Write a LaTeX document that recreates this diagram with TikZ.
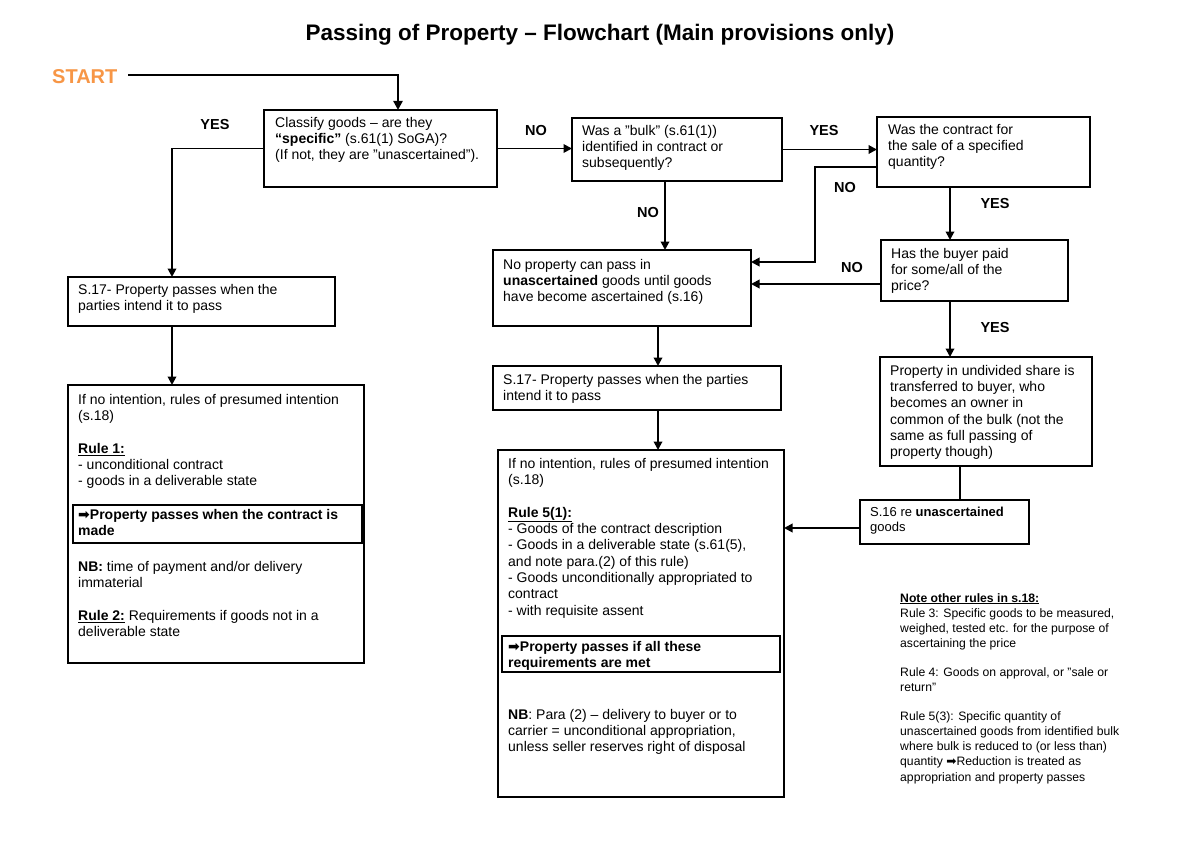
\documentclass[tikz,border=0pt]{standalone}
\usepackage{fontspec}
\setmainfont{Liberation Sans}
\newfontfamily\symfont{DejaVu Sans}
\usetikzlibrary{arrows.meta,calc}
\definecolor{startorange}{RGB}{247,150,70}
\newcommand{\myarrow}{{\symfont ➡}}
\newcommand{\sq}{\symbol{"22}}
\begin{document}
\begin{tikzpicture}[x=1pt,y=-1pt,
  box/.style={draw, line width=1.5pt, inner sep=0pt, outer sep=0pt, anchor=north west},
  txt/.style={anchor=north west, yshift=11pt, inner sep=0pt, align=left, font=\fontsize{14}{16.3}\selectfont, execute at begin node={\rule{0pt}{11pt}}},
  small/.style={anchor=north west, yshift=10.5pt, inner sep=0pt, align=left, font=\fontsize{13}{15}\selectfont, execute at begin node={\rule{0pt}{10.5pt}}},
  note/.style={anchor=north west, yshift=10pt, inner sep=0pt, align=left, font=\fontsize{12.2}{15.2}\selectfont, execute at begin node={\rule{0pt}{10pt}}},
  lab/.style={font=\bfseries\fontsize{14.5}{17}\selectfont, inner sep=0pt},
  con/.style={line width=1.9pt},
  arr/.style={line width=1.9pt, -{Triangle[length=8.5pt,width=8.5pt]}}]
\useasboundingbox (0,0) rectangle (1200,848);
\fill[white] (0,0) rectangle (1200,848);

% title and start
\node[font=\bfseries\fontsize{22.5}{26}\selectfont, inner sep=0pt] (title) at (600,35) {Passing of Property – Flowchart (Main provisions only)};
\node[font=\bfseries\fontsize{20}{24}\selectfont, text=startorange, anchor=base west, inner sep=0pt] (start) at (52,84) {START};

% boxes
\node[box, minimum width=233pt, minimum height=77pt] (A) at (264,110) {};
\node[box, minimum width=267pt, minimum height=49pt] (B) at (68,277) {};
\node[box, minimum width=296pt, minimum height=278pt] (C) at (68,385) {};
\node[box, minimum width=289pt, minimum height=38pt] (Cin) at (73,505) {};
\node[box, minimum width=210pt, minimum height=63pt] (D) at (572,118) {};
\node[box, minimum width=213pt, minimum height=70pt] (F) at (877,117) {};
\node[box, minimum width=258pt, minimum height=76pt] (G) at (493,250) {};
\node[box, minimum width=187pt, minimum height=61pt] (H) at (881,240) {};
\node[box, minimum width=212pt, minimum height=109pt] (I) at (880,357) {};
\node[box, minimum width=169pt, minimum height=44pt] (J) at (860,500) {};
\node[box, minimum width=288pt, minimum height=44pt] (K) at (493,366) {};
\node[box, minimum width=286pt, minimum height=347pt] (L) at (498,450) {};
\node[box, minimum width=278pt, minimum height=36pt] (Lin) at (502,636) {};

% texts
\node[txt] (At) at (275,128) {Classify goods – are they\\\textbf{“specific”} (s.61(1) SoGA)?\\(If not, they are \sq unascertained\sq).};
\node[txt] (Bt) at (78,295) {S.17- Property passes when the\\parties intend it to pass};
\node[txt] (Ct) at (78,405) {If no intention, rules of presumed intention\\(s.18)\\[16.3pt]\underline{\textbf{Rule 1:}}\\- unconditional contract\\- goods in a deliverable state};
\node[txt, font=\bfseries\fontsize{14}{16.3}\selectfont] (Cint) at (78,520) {\myarrow Property passes when the contract is\\made};
\node[txt] (Cb) at (78,572) {\textbf{NB:} time of payment and/or delivery\\immaterial\\[16.3pt]\underline{\textbf{Rule 2:}} Requirements if goods not in a\\deliverable state};
\node[txt] (Dt) at (582,136) {Was a \sq bulk\sq{} (s.61(1))\\identified in contract or\\subsequently?};
\node[txt] (Ft) at (888,135) {Was the contract for\\the sale of a specified\\quantity?};
\node[txt] (Gt) at (503,270) {No property can pass in\\\textbf{unascertained} goods until goods\\have become ascertained (s.16)};
\node[txt] (Ht) at (891,259) {Has the buyer paid\\for some/all of the\\price?};
\node[txt] (It) at (890,376) {Property in undivided share is\\transferred to buyer, who\\becomes an owner in\\common of the bulk (not the\\same as full passing of\\property though)};
\node[small] (Jt) at (870,517) {S.16 re \textbf{unascertained}\\goods};
\node[txt] (Kt) at (503,385) {S.17- Property passes when the parties\\intend it to pass};
\node[txt] (Lt) at (508,469) {If no intention, rules of presumed intention\\(s.18)\\[16.3pt]\underline{\textbf{Rule 5(1):}}\\- Goods of the contract description\\- Goods in a deliverable state (s.61(5),\\and note para.(2) of this rule)\\- Goods unconditionally appropriated to\\contract\\- with requisite assent};
\node[txt, font=\bfseries\fontsize{14}{16.3}\selectfont] (Lint) at (508,652) {\myarrow Property passes if all these\\requirements are met};
\node[txt] (Lb) at (508,720) {\textbf{NB}: Para (2) – delivery to buyer or to\\carrier = unconditional appropriation,\\unless seller reserves right of disposal};
\node[note] (notes) at (900,603) {\underline{\textbf{Note other rules in s.18:}}\\Rule 3: Specific goods to be measured,\\weighed, tested etc. for the purpose of\\ascertaining the price\\[13.5pt]Rule 4: Goods on approval, or \sq sale or\\return\sq\\[13.5pt]Rule 5(3): Specific quantity of\\unascertained goods from identified bulk\\where bulk is reduced to (or less than)\\quantity \myarrow Reduction is treated as\\appropriation and property passes};

% labels
\node[lab] (y1) at (215,125) {YES};
\node[lab] (n1l) at (536,131) {NO};
\node[lab] (y2) at (824,131) {YES};
\node[lab] (n2l) at (845,188) {NO};
\node[lab] (n3l) at (648,213) {NO};
\node[lab] (y3) at (995,204) {YES};
\node[lab] (n4l) at (852,268) {NO};
\node[lab] (y4) at (995,328) {YES};

% connectors
\coordinate (c0) at (128,75);
\coordinate (c1) at (398,75);
\draw[line width=2.6pt, -{Triangle[length=9pt,width=9pt]}] (c0) -- (c1) -- (c1 |- A.north);
\coordinate (bx) at (172,0);
\draw[arr] (A.west) -- (A.west -| bx) -- (bx |- B.north);
\draw[arr] (bx |- B.south) -- (bx |- C.north);
\draw[arr] (A.east) -- (A.east -| D.west);
\draw[arr] (D.east) -- (D.east -| F.west);
\coordinate (gx) at (665,0);
\draw[arr] (gx |- D.south) -- (gx |- G.north);
\coordinate (m1) at (815,167);
\coordinate (m2) at (815,262);
\draw[arr] (m1 -| F.west) -- (m1) -- (m2) -- (m2 -| G.east);
\coordinate (hx) at (950,0);
\draw[arr] (hx |- F.south) -- (hx |- H.north);
\coordinate (m3) at (0,284);
\draw[arr] (m3 -| H.west) -- (m3 -| G.east);
\draw[arr] (hx |- H.south) -- (hx |- I.north);
\coordinate (jx) at (960,0);
\draw[con] (jx |- I.south) -- (jx |- J.north);
\coordinate (m4) at (0,528);
\draw[arr] (m4 -| J.west) -- (m4 -| L.east);
\coordinate (kx) at (658,0);
\draw[arr] (kx |- G.south) -- (kx |- K.north);
\draw[arr] (kx |- K.south) -- (kx |- L.north);
\end{tikzpicture}
\end{document}
